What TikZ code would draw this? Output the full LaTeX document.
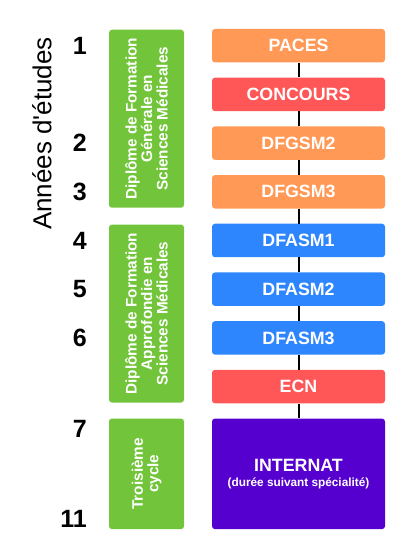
\documentclass[tikz,border=0pt]{standalone}
\usepackage{fontspec}
\setmainfont{Liberation Sans}
\usetikzlibrary{positioning, calc}

\definecolor{stOrange}{RGB}{255,153,85}
\definecolor{stRed}{RGB}{255,87,87}
\definecolor{stBlue}{RGB}{46,134,255}
\definecolor{stPurple}{RGB}{86,0,207}
\definecolor{cyGreen}{RGB}{114,197,58}

\begin{document}
\begin{tikzpicture}[
        x=1pt, y=1pt,
        node distance=14.8pt,
        stage/.style={rectangle, rounded corners=3pt, minimum width=173pt, minimum height=33.5pt, inner sep=0pt, text=white, align=center, font=\bfseries\fontsize{17.8}{20}\selectfont},
        cyclebox/.style={rectangle, rounded corners=3pt, fill=cyGreen, rotate=90, minimum height=75pt, inner sep=0pt, text=white, align=center, font=\bfseries\fontsize{15.3}{15.5}\selectfont},
        year/.style={anchor=east, inner sep=0pt, font=\bfseries\fontsize{25}{30}\selectfont},
        link/.style={line width=2pt, black}
    ]
        \useasboundingbox (0,0) rectangle (414,552);

        \node[stage, fill=stOrange] (paces) at (298.5,506.3) {PACES};
        \node[stage, fill=stRed, below=of paces] (concours) {CONCOURS};
        \node[stage, fill=stOrange, below=of concours] (dfgsm2) {DFGSM2};
        \node[stage, fill=stOrange, below=of dfgsm2] (dfgsm3) {DFGSM3};
        \node[stage, fill=stBlue, below=of dfgsm3] (dfasm1) {DFASM1};
        \node[stage, fill=stBlue, below=of dfasm1] (dfasm2) {DFASM2};
        \node[stage, fill=stBlue, below=of dfasm2] (dfasm3) {DFASM3};
        \node[stage, fill=stRed, below=of dfasm3] (ecn) {ECN};
        \node[stage, fill=stPurple, minimum height=110.6pt, below=of ecn] (internat) {INTERNAT\\[-5pt]{\fontsize{11.8}{13}\selectfont (durée suivant spécialité)}};

        \foreach \a/\b in {paces/concours, concours/dfgsm2, dfgsm2/dfgsm3, dfgsm3/dfasm1, dfasm1/dfasm2, dfasm2/dfasm3, dfasm3/ecn, ecn/internat}
            \draw[link] (\a) -- (\b);

        % cycles
        \node[cyclebox, minimum width=178pt] (dfgsm) at ($(paces.north)!0.5!(dfgsm3.south)+(-152,0)$) {Diplôme de Formation\\Générale en\\Sciences Médicales};
        \node[cyclebox, minimum width=178pt] (dfasm) at ($(dfasm1.north)!0.5!(ecn.south)+(-152,0)$) {Diplôme de Formation\\Approfondie en\\Sciences Médicales};
        \node[cyclebox, minimum width=110.6pt] (troisieme) at ($(internat)+(-152,0)$) {Troisième\\cycle};

        % years
        \foreach \yr/\st in {1/paces, 2/dfgsm2, 3/dfgsm3, 4/dfasm1, 5/dfasm2, 6/dfasm3}
            \node[year] (y\yr) at (87,0 |- \st) {\yr};
        \node[year] (y7) at ($(87,0 |- internat.north)+(0,-11)$) {7};
        \node[year] (y11) at ($(87,0 |- internat.south)+(0,10)$) {11};

        \node[rotate=90, font=\fontsize{26}{30}\selectfont] (annees) at (42,418.5) {Années d\textquotesingle études};
    \end{tikzpicture}
\end{document}
